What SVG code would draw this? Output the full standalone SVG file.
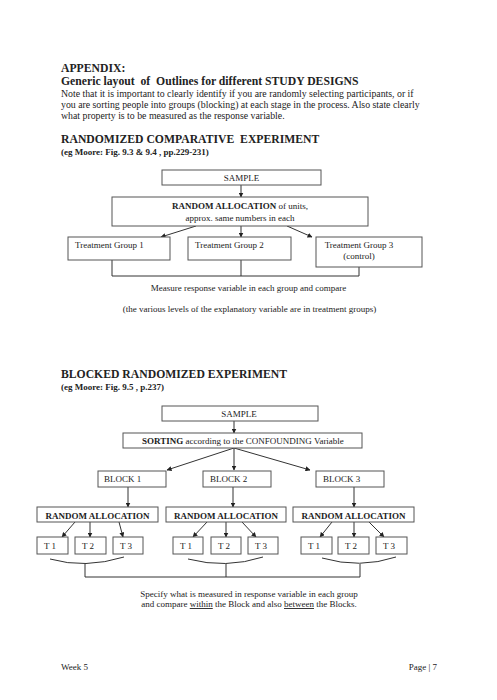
<svg xmlns="http://www.w3.org/2000/svg" width="497" height="700" viewBox="0 0 497 700">
<defs>
<marker id="ah" viewBox="0 0 10 10" refX="9" refY="5" markerWidth="5" markerHeight="5" orient="auto" markerUnits="userSpaceOnUse">
<path d="M0,0 L10,5 L0,10 z" fill="#222"/>
</marker>
<style>
.t{font-family:"Liberation Serif","Times New Roman",serif;fill:#222}
.h{font-weight:bold;font-size:11.7px}
.n{font-size:9.8px}
.s{font-weight:bold;font-size:9px}
.b{font-size:9px}
.bb{font-size:9px;font-weight:bold}
.box{fill:#fff;stroke:#555;stroke-width:1}
.ln{fill:none;stroke:#333;stroke-width:1}
.ar{fill:none;stroke:#333;stroke-width:1;marker-end:url(#ah)}
</style>
</defs>
<rect width="497" height="700" fill="#fff"/>

<g id="header">
<text class="t h" x="61" y="72">APPENDIX:</text>
<text class="t h" x="61" y="85" xml:space="preserve">Generic layout  of  Outlines for different STUDY DESIGNS</text>
<text class="t n" x="61" y="97">Note that it is important to clearly identify if you are randomly selecting participants, or if</text>
<text class="t n" x="61" y="108">you are sorting people into groups (blocking) at each stage in the process. Also state clearly</text>
<text class="t n" x="61" y="119">what property is to be measured as the response variable.</text>
<text class="t h" x="61" y="143" xml:space="preserve">RANDOMIZED COMPARATIVE  EXPERIMENT</text>
<text class="t s" x="61" y="155">(eg Moore:  Fig. 9.3 &amp; 9.4 , pp.229-231)</text>
</g>

<g id="connectors1">
<line class="ar" x1="241" y1="185" x2="241" y2="197"/>
<line class="ar" x1="196" y1="226" x2="161" y2="237"/>
<line class="ar" x1="241" y1="226" x2="241" y2="237"/>
<line class="ar" x1="287" y1="226" x2="312" y2="237"/>
<path class="ln" d="M112,260 V276 H359 V267 M241,260 V276"/>
</g>

<g id="sample1">
<rect class="box" x="162" y="170" width="159" height="15"/>
<text class="t b" x="241.5" y="180.5" text-anchor="middle">SAMPLE</text>
</g>
<g id="random-allocation1">
<rect class="box" x="112" y="197" width="256" height="29"/>
<text class="t b" x="240" y="209" text-anchor="middle"><tspan font-weight="bold">RANDOM ALLOCATION</tspan> of units,</text>
<text class="t b" x="240" y="221" text-anchor="middle">approx. same numbers in each</text>
</g>
<g id="tg1">
<rect class="box" x="68" y="237" width="102" height="23"/>
<text class="t b" x="75" y="248">Treatment Group 1</text>
</g>
<g id="tg2">
<rect class="box" x="188" y="237" width="103" height="23"/>
<text class="t b" x="195" y="248">Treatment Group 2</text>
</g>
<g id="tg3">
<rect class="box" x="316" y="237" width="106" height="30"/>
<text class="t b" x="359" y="248" text-anchor="middle">Treatment Group 3</text>
<text class="t b" x="359" y="259" text-anchor="middle">(control)</text>
</g>
<g id="notes1">
<text class="t b" x="248.5" y="291" text-anchor="middle">Measure response variable in each group and compare</text>
<text class="t b" x="249.5" y="312" text-anchor="middle">(the various levels of the explanatory variable are in treatment groups)</text>
</g>

<g id="header2">
<text class="t h" x="61" y="378">BLOCKED RANDOMIZED EXPERIMENT</text>
<text class="t s" x="61" y="390">(eg Moore:  Fig. 9.5 , p.237)</text>
</g>

<g id="connectors2">
<line class="ar" x1="234" y1="421" x2="234" y2="433"/>
<line class="ar" x1="234" y1="448" x2="167" y2="470"/>
<line class="ar" x1="234" y1="448" x2="234" y2="470"/>
<line class="ar" x1="234" y1="448" x2="310" y2="470"/>
<line class="ar" x1="128" y1="487" x2="128" y2="507"/>
<line class="ar" x1="233" y1="487" x2="233" y2="507"/>
<line class="ar" x1="354" y1="487" x2="354" y2="507"/>
<line class="ar" x1="75" y1="522" x2="62" y2="537"/>
<line class="ar" x1="90" y1="522" x2="90" y2="537"/>
<line class="ar" x1="119" y1="522" x2="123" y2="537"/>
<line class="ar" x1="207" y1="522" x2="193" y2="537"/>
<line class="ar" x1="226" y1="522" x2="226" y2="537"/>
<line class="ar" x1="242" y1="522" x2="256" y2="537"/>
<line class="ar" x1="332" y1="522" x2="320" y2="537"/>
<line class="ar" x1="354" y1="522" x2="354" y2="537"/>
<line class="ar" x1="369" y1="522" x2="384" y2="537"/>
<path class="ln" d="M50,559 Q85,569 124,557 M188,559 Q226,569 263,557 M322,558 Q360,569 396,557"/>
<path class="ln" d="M85,564 V577 H360 V564 M226,564 V577"/>
</g>

<g id="sample2">
<rect class="box" x="162" y="406" width="156" height="15"/>
<text class="t b" x="239" y="416.5" text-anchor="middle">SAMPLE</text>
</g>
<g id="sorting">
<rect class="box" x="123" y="433" width="239" height="15"/>
<text class="t b" x="243" y="443.5" text-anchor="middle"><tspan font-weight="bold">SORTING</tspan>  according to the CONFOUNDING Variable</text>
</g>
<g id="block1">
<rect class="box" x="98" y="471" width="68" height="16"/>
<text class="t b" x="104" y="482">BLOCK 1</text>
</g>
<g id="block2">
<rect class="box" x="203" y="471" width="68" height="16"/>
<text class="t b" x="210" y="482">BLOCK 2</text>
</g>
<g id="block3">
<rect class="box" x="316" y="471" width="68" height="16"/>
<text class="t b" x="323" y="482">BLOCK 3</text>
</g>
<g id="ra1">
<rect class="box" x="37" y="507" width="121" height="15"/>
<text class="t bb" x="97.5" y="518.5" text-anchor="middle">RANDOM ALLOCATION</text>
</g>
<g id="ra2">
<rect class="box" x="166" y="507" width="120" height="15"/>
<text class="t bb" x="226" y="518.5" text-anchor="middle">RANDOM ALLOCATION</text>
</g>
<g id="ra3">
<rect class="box" x="293" y="507" width="121" height="15"/>
<text class="t bb" x="353.5" y="518.5" text-anchor="middle">RANDOM ALLOCATION</text>
</g>
<g id="g1t1"><rect class="box" x="37" y="537" width="31" height="17"/><text class="t b" x="44" y="549">T 1</text></g>
<g id="g1t2"><rect class="box" x="75" y="537" width="31" height="17"/><text class="t b" x="82" y="549">T 2</text></g>
<g id="g1t3"><rect class="box" x="113" y="537" width="30" height="17"/><text class="t b" x="120" y="549">T 3</text></g>
<g id="g2t1"><rect class="box" x="173" y="537" width="30" height="17"/><text class="t b" x="180" y="549">T 1</text></g>
<g id="g2t2"><rect class="box" x="211" y="537" width="30" height="17"/><text class="t b" x="218" y="549">T 2</text></g>
<g id="g2t3"><rect class="box" x="248" y="537" width="30" height="17"/><text class="t b" x="255" y="549">T 3</text></g>
<g id="g3t1"><rect class="box" x="301" y="537" width="31" height="17"/><text class="t b" x="308" y="549">T 1</text></g>
<g id="g3t2"><rect class="box" x="338" y="537" width="31" height="17"/><text class="t b" x="345" y="549">T 2</text></g>
<g id="g3t3"><rect class="box" x="376" y="537" width="31" height="17"/><text class="t b" x="383" y="549">T 3</text></g>

<g id="notes2">
<text class="t b" x="249" y="597" text-anchor="middle">Specify what is measured in response variable in each group</text>
<text class="t b" x="249" y="607" text-anchor="middle">and compare <tspan text-decoration="underline">within</tspan> the Block and also <tspan text-decoration="underline">between</tspan> the Blocks.</text>
</g>

<g id="footer">
<text class="t b" x="61" y="670">Week 5</text>
<text class="t b" x="437" y="670" text-anchor="end">Page | 7</text>
</g>
</svg>
